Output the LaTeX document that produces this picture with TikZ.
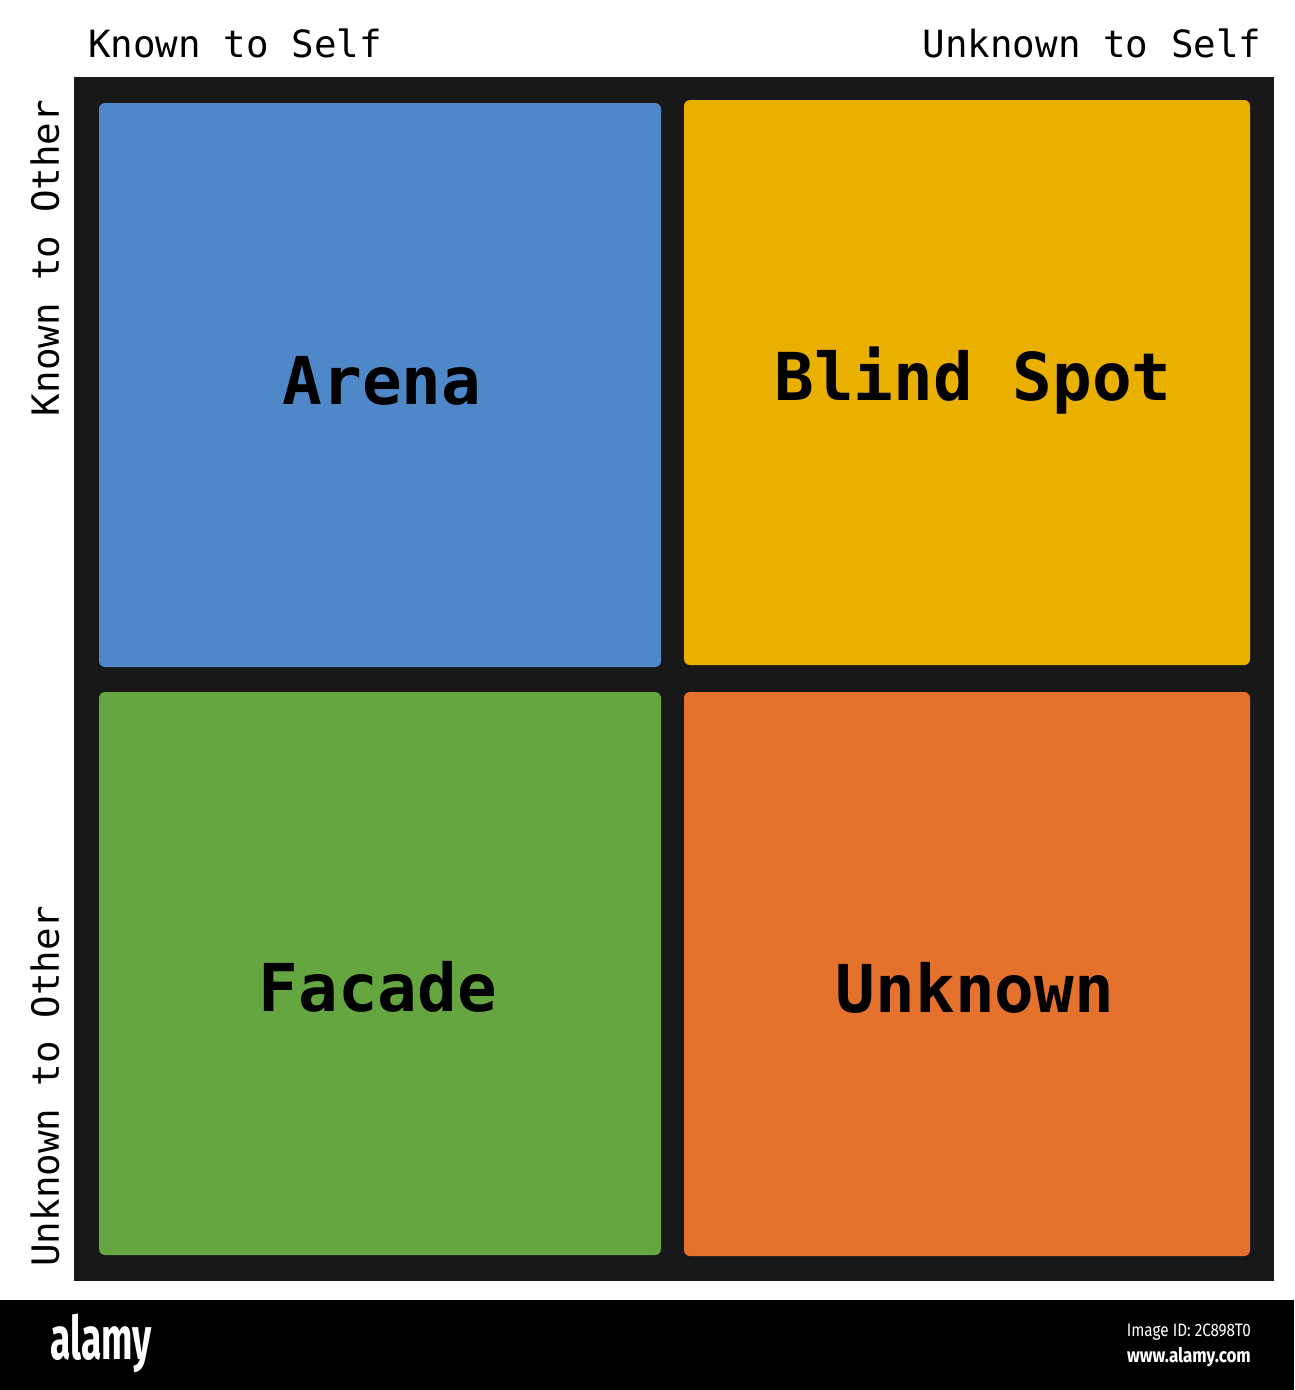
\documentclass[tikz,border=0pt]{standalone}
\usepackage{fontspec}
\setmonofont{DejaVu Sans Mono}
\newfontfamily\brandfont{Fira Sans}
\begin{document}
\begin{tikzpicture}[x=1pt,y=-1pt,
  tile/.style={rounded corners=6pt, draw=none},
  quadlabel/.style={font=\ttfamily\bfseries\fontsize{66}{72}\selectfont, text=black},
  axislabel/.style={font=\ttfamily\fontsize{37.5}{42}\selectfont, text=black, inner sep=0pt}]
\definecolor{frameblack}{HTML}{181818}
\definecolor{arenablue}{HTML}{4F88C8}
\definecolor{blindyellow}{HTML}{EAB000}
\definecolor{facadegreen}{HTML}{66A640}
\definecolor{unknownorange}{HTML}{E4722D}
\useasboundingbox (0,0) rectangle (1294,1390);
\fill[white] (0,0) rectangle (1294,1390);
% frame
\fill[frameblack] (74,77) rectangle (1274,1281);
% tiles
\fill[tile, arenablue] (99,103) rectangle (661,667);
\fill[tile, blindyellow] (684,100) rectangle (1250,665);
\fill[tile, facadegreen] (99,692) rectangle (661,1255);
\fill[tile, unknownorange] (684,692) rectangle (1250,1256);
% quadrant labels
\node[quadlabel] (arena) at (382,381) {Arena};
\node[quadlabel] (blind) at (973,381) {Blind Spot};
\node[quadlabel] (facade) at (378,987) {Facade};
\node[quadlabel] (unknown) at (975,988) {Unknown};
% axis labels
\node[axislabel] (kself) at (235,43) {Known to Self};
\node[axislabel] (uself) at (1092,43) {Unknown to Self};
\node[axislabel, rotate=90] (kother) at (45,258) {Known to Other};
\node[axislabel, rotate=90] (uother) at (45,1086) {Unknown to Other};
% bottom bar
\fill[black] (0,1300) rectangle (1294,1390);
\node[font=\brandfont\bfseries\fontsize{60}{64}\selectfont, text=white, xscale=0.62, inner sep=0pt] (brand) at (101,1343) {alamy};
\node[font=\brandfont\fontsize{18}{20}\selectfont, text=white, anchor=east, inner sep=0pt, xscale=0.85] (imgid) at (1251,1332) {Image ID: 2C898T0};
\node[font=\brandfont\bfseries\fontsize{20}{22}\selectfont, text=white, anchor=east, inner sep=0pt, xscale=0.85] (url) at (1251,1357) {www.alamy.com};
\end{tikzpicture}
\end{document}
